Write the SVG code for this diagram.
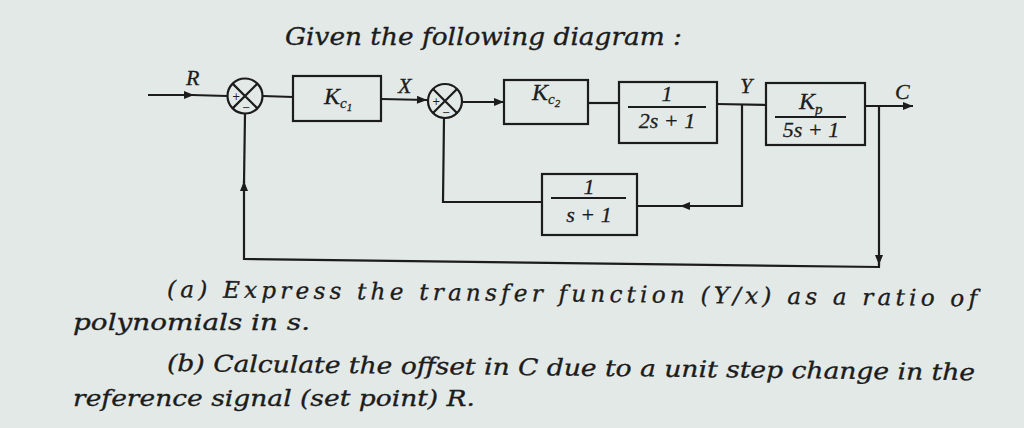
<svg xmlns="http://www.w3.org/2000/svg" width="1024" height="428" viewBox="0 0 1024 428">
<defs>
<marker id="ah" viewBox="0 0 10 8" refX="10" refY="4" markerWidth="11" markerHeight="8" markerUnits="userSpaceOnUse" orient="auto">
<path d="M0,0 L10,4 L0,8 z" fill="#1c1c1c"/>
</marker>
<style>
.w{fill:none;stroke:#1c1c1c;stroke-width:2.2}
.b{fill:none;stroke:#1c1c1c;stroke-width:2.2}
.t{font-family:"DejaVu Serif","Liberation Serif",serif;font-style:italic;fill:#1c1c1c;stroke:#1c1c1c;stroke-width:0.35}
.m{font-family:"Liberation Serif",serif;font-style:italic;fill:#1c1c1c;stroke:#1c1c1c;stroke-width:0.3}
.s{font-family:"DejaVu Sans","Liberation Sans",sans-serif;fill:#1c1c1c;font-size:10px}
</style>
</defs>
<rect width="1024" height="428" fill="#e3e9e7"/>

<g id="title">
<text class="t" x="285" y="45" font-size="25" textLength="397" lengthAdjust="spacingAndGlyphs">Given the following diagram :</text>
</g>

<g id="connectors">
<path class="w" d="M148 95 L194 95" marker-end="url(#ah)"/>
<path class="w" d="M192 95 L227 96"/>
<path class="w" d="M263 96 L293 97"/>
<path class="w" d="M381 99 L427 100" marker-end="url(#ah)"/>
<path class="w" d="M462 102 L504 102" marker-end="url(#ah)"/>
<path class="w" d="M588 103 L619 103"/>
<path class="w" d="M717 104 L766 105"/>
<path class="w" d="M865 106 L913 106" marker-end="url(#ah)"/>
<path class="w" d="M742 104 L742 206 L680 206" marker-end="url(#ah)"/>
<path class="w" d="M682 206 L637 206"/>
<path class="w" d="M542 202 L443 202 L444 118"/>
<path class="w" d="M879 106 L879 265" marker-end="url(#ah)"/>
<path class="w" d="M879 263 L879 267 L244 259 L244 181" marker-end="url(#ah)"/>
<path class="w" d="M244 183 L245 114"/>
</g>

<g id="sum1">
<circle class="b" cx="245" cy="96" r="17.5"/>
<path class="w" d="M232.6 83.6 L257.4 108.4 M257.4 83.6 L232.6 108.4"/>
<text class="s" x="232" y="100">+</text>
<text class="s" x="242" y="111">−</text>
</g>

<g id="sum2">
<circle class="b" cx="445" cy="101" r="17"/>
<path class="w" d="M433 89 L457 113 M457 89 L433 113"/>
<text class="s" x="432" y="105">+</text>
<text class="s" x="442" y="116">−</text>
</g>

<g id="kc1">
<rect class="b" x="293" y="76" width="88" height="45"/>
<text class="m" x="324" y="104" font-size="24">K<tspan font-size="15" dy="4">c</tspan><tspan font-size="11" dy="3">1</tspan></text>
</g>

<g id="kc2">
<rect class="b" x="504" y="80" width="84" height="44"/>
<text class="m" x="532" y="100" font-size="24">K<tspan font-size="15" dy="4">c</tspan><tspan font-size="11" dy="3">2</tspan></text>
</g>

<g id="g1">
<rect class="b" x="619" y="82" width="98" height="61"/>
<text class="m" x="667" y="101" font-size="22" text-anchor="middle">1</text>
<line class="w" x1="628" y1="107" x2="706" y2="107" stroke-width="1.8"/>
<text class="m" x="667" y="128" font-size="22" text-anchor="middle">2s + 1</text>
</g>

<g id="gp">
<rect class="b" x="766" y="83" width="99" height="62"/>
<text class="m" x="799" y="109" font-size="24">K<tspan font-size="15" dy="5">p</tspan></text>
<line class="w" x1="775" y1="117" x2="846" y2="117" stroke-width="1.8"/>
<text class="m" x="811" y="137" font-size="22" text-anchor="middle">5s + 1</text>
</g>

<g id="h">
<rect class="b" x="542" y="174" width="95" height="61"/>
<text class="m" x="589" y="194" font-size="22" text-anchor="middle">1</text>
<line class="w" x1="551" y1="198" x2="626" y2="198" stroke-width="1.8"/>
<text class="m" x="589" y="222" font-size="22" text-anchor="middle">s + 1</text>
</g>

<g id="labels">
<text class="m" x="186" y="85" font-size="22">R</text>
<text class="m" x="398" y="93" font-size="22">X</text>
<text class="m" x="740" y="93" font-size="22">Y</text>
<text class="m" x="895" y="99" font-size="22">C</text>
</g>

<g id="question">
<text class="t" x="167" y="297" font-size="23" textLength="810" lengthAdjust="spacing" transform="rotate(0.65 167 297)">(a) Express the transfer function (Y/x) as a ratio of</text>
<text class="t" x="73" y="330" font-size="23" textLength="237" lengthAdjust="spacingAndGlyphs">polynomials in s.</text>
<text class="t" x="167" y="371" font-size="23" textLength="808" lengthAdjust="spacingAndGlyphs" transform="rotate(0.65 167 371)">(b) Calculate the offset in C due to a unit step change in the</text>
<text class="t" x="73" y="406" font-size="23" textLength="402" lengthAdjust="spacingAndGlyphs">reference signal (set point) R.</text>
</g>
</svg>
